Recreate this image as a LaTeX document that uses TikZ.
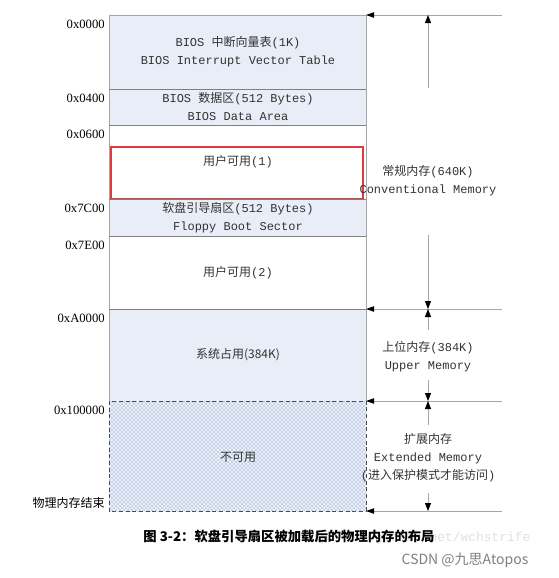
\documentclass[tikz,border=0pt]{standalone}
\usepackage{fontspec}
\setmainfont{Liberation Serif}
\setmonofont{Liberation Mono}
\newfontfamily\cjk{Noto Sans CJK SC}
\usepackage{tikz}
\usetikzlibrary{arrows.meta, patterns}
\usepackage{xcolor}
\definecolor{MemFill}{HTML}{E8EDF7}
\definecolor{EdgeGray}{HTML}{A6A6A6}
\definecolor{MarkRed}{HTML}{E23A3A}
\definecolor{HatchBlue}{HTML}{BFCDE6}
\definecolor{InkGray}{HTML}{333333}

\begin{document}
\begin{tikzpicture}[x=0.75pt, y=-0.75pt,
    addr/.style={anchor=east, inner sep=0pt, font=\fontsize{9.5}{11}\selectfont},
    memtext/.style={align=center, inner sep=0pt, text=InkGray, font=\fontsize{9}{13.5}\selectfont\ttfamily},
    hline/.style={EdgeGray, line width=0.6pt, -{Triangle[length=6pt, width=4pt, black]}},
    vline/.style={EdgeGray, line width=0.6pt, -{Triangle[length=6pt, width=4.5pt, black]}}]
  \useasboundingbox (0,0) rectangle (559,578);
  % filled regions
  \fill[MemFill] (109,15) rectangle (366,125);
  \fill[MemFill] (109,199) rectangle (366,236);
  \fill[MemFill] (109,309) rectangle (366,401);
  \fill[MemFill!60] (109,401) rectangle (366,511);
  % borders
  \draw[EdgeGray, line width=0.6pt] (109,401) -- (109,15) -- (366,15) -- (366,401);
  \foreach \y in {89,125,199,236,309}{
    \draw[gray, line width=0.6pt] (109,\y) -- (366,\y);
  }
  \draw[draw=MarkRed, line width=0.8pt] (111,147) rectangle (363,198.5);
  \fill[pattern=north east lines, pattern color=HatchBlue] (109,401) rectangle (366,511);
  \fill[pattern=north west lines, pattern color=HatchBlue] (109,401) rectangle (366,511);
  \draw[black!70, densely dashed, line width=0.6pt] (109,401) rectangle (366,511);
  % address labels
  \foreach \y/\t/\n in {15/0x0000/a0, 89/0x0400/a1, 125/0x0600/a2, 199/0x7C00/a3, 236/0x7E00/a4, 309/0xA0000/a5, 401/0x100000/a6}{
    \node[addr] (\n) at (105,\y+9) {\t};
  }
  \node[addr, font=\fontsize{9}{11}\selectfont\cjk] (aend) at (105,503) {物理内存结束};
  % region texts
  \node[memtext] (ivt) at (238,52) {BIOS {\cjk 中断向量表}(1K)\\BIOS Interrupt Vector Table};
  \node[memtext] (bda) at (238,107) {BIOS {\cjk 数据区}(512 Bytes)\\BIOS Data Area};
  \node[memtext] (user1) at (238,162) {{\cjk 用户可用}(1)};
  \node[memtext] (boot) at (238,218) {{\cjk 软盘引导扇区}(512 Bytes)\\Floppy Boot Sector};
  \node[memtext] (user2) at (238,273) {{\cjk 用户可用}(2)};
  \node[memtext, font=\fontsize{9}{13.5}\selectfont\cjk] (sys) at (238,355) {系统占用(384K)};
  \node[memtext, font=\fontsize{9}{13.5}\selectfont\cjk] (none) at (238,457) {不可用};
  % right side
  \foreach \y/\n in {15/top, 309/upper, 401/ext, 511/bot}{
    \coordinate (m-\n) at (366,\y);
    \coordinate (r-\n) at (502,\y);
    \coordinate (v-\n) at (428,\y);
    \draw[hline] (r-\n) -- (m-\n);
  }
  \node[memtext] (conv) at (428,181) {{\cjk 常规内存}(640K)\\Conventional Memory};
  \node[memtext] (upper) at (428,357) {{\cjk 上位内存}(384K)\\Upper Memory};
  \node[memtext] (extm) at (428,458) {{\cjk 扩展内存}\\Extended Memory\\({\cjk 进入保护模式才能访问})};
  \coordinate (c1) at (428,88);
  \coordinate (c2) at (428,235);
  \coordinate (c3) at (428,330);
  \coordinate (c4) at (428,380);
  \coordinate (c5) at (428,425);
  \coordinate (c6) at (428,493);
  \draw[vline] (c1) -- (v-top);
  \draw[vline] (c2) -- (v-upper);
  \draw[vline] (c3) -- (v-upper);
  \draw[vline] (c4) -- (v-ext);
  \draw[vline] (c5) -- (v-ext);
  \draw[vline] (c6) -- (v-bot);
  % caption and marks
  \node[text=black!12, font=\fontsize{9.7}{11}\selectfont\ttfamily] (wm) at (414,538) {http://blog.csdn.net/wchstrife};
  \node[font=\fontsize{10}{12}\selectfont\cjk\bfseries] (cap) at (289,536) {图 3-2：软盘引导扇区被加载后的物理内存的布局};
  \node[text=black!50, font=\fontsize{10.5}{12}\selectfont\cjk] (csdn) at (465,560) {CSDN @九思Atopos};
\end{tikzpicture}
\end{document}
